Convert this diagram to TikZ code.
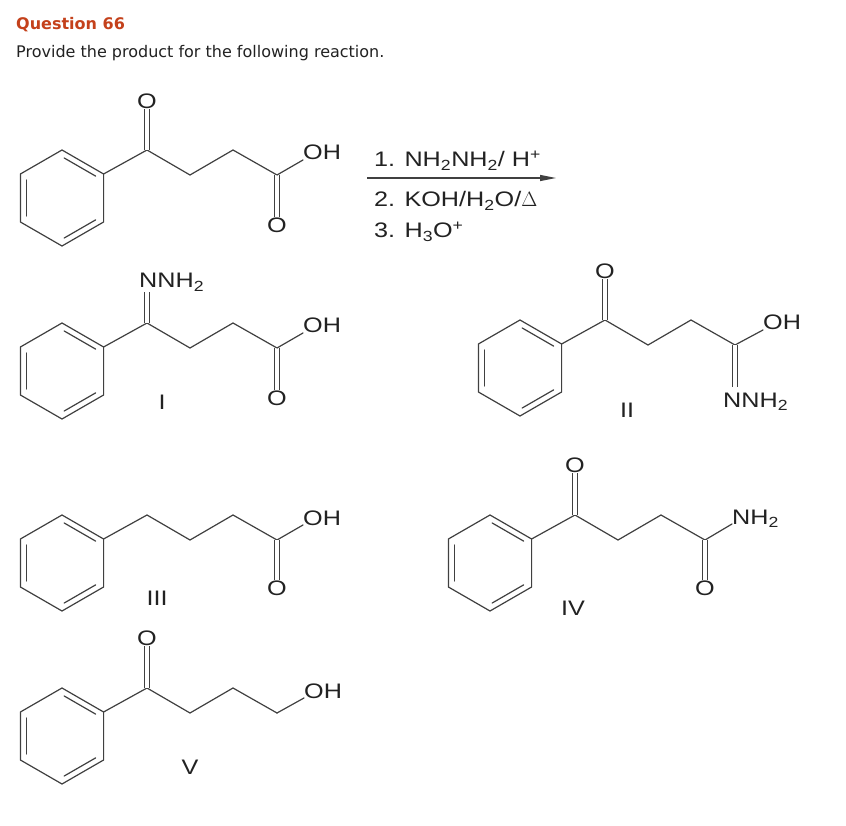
\documentclass[tikz,border=0pt]{standalone}
\usepackage{fontspec}
\setmainfont{DejaVu Sans}
\newfontfamily\chem[FakeStretch=1.2]{Liberation Sans}
\usetikzlibrary{arrows.meta,calc}
\definecolor{qorange}{HTML}{C4411B}
\definecolor{bondc}{HTML}{404040}
\definecolor{txtc}{HTML}{222222}
\tikzset{
 bnd/.style={draw=bondc,line width=1.2pt,line cap=round},
 inner/.style={bnd,shorten <=2.5pt,shorten >=2.5pt},
 dbl/.style={draw=bondc,line width=1.1pt,double=white,double distance=3.4pt},
 lbl/.style={font=\chem\fontsize{21}{21}\selectfont,text=txtc,inner sep=0.5pt},
 rgt/.style={font=\chem\fontsize{21}{21}\selectfont,text=txtc,inner sep=0pt,anchor=base west}
}
\newcommand\skel[3]{%
 \coordinate (#1t) at (#2+62,#3);
 \coordinate (#1ur) at (#2+103.6,#3+24);
 \coordinate (#1lr) at (#2+103.6,#3+72);
 \coordinate (#1bo) at (#2+62,#3+96);
 \coordinate (#1ll) at (#2+20.4,#3+72);
 \coordinate (#1ul) at (#2+20.4,#3+24);
 \coordinate (#1c) at (#2+62,#3+48);
 \draw[bnd,line join=round] (#1t)--(#1ur)--(#1lr)--(#1bo)--(#1ll)--(#1ul)--cycle;
 \draw[inner] ($(#1c)!0.86!(#1t)$) -- ($(#1c)!0.86!(#1ur)$);
 \draw[inner] ($(#1c)!0.86!(#1lr)$) -- ($(#1c)!0.86!(#1bo)$);
 \draw[inner] ($(#1c)!0.86!(#1ll)$) -- ($(#1c)!0.86!(#1ul)$);
 \coordinate (#1k1) at (#2+147,#3);
 \coordinate (#1k2) at (#2+190,#3+25);
 \coordinate (#1k3) at (#2+233,#3);
 \coordinate (#1k4) at (#2+277,#3+25);
 \draw[bnd,line join=round] (#1ur)--(#1k1)--(#1k2)--(#1k3)--(#1k4);
}
\begin{document}
\begin{tikzpicture}[x=1pt,y=-1pt]
\useasboundingbox[fill=white] (0,0) rectangle (846,826);
\node[anchor=base west,inner sep=0,text=qorange,font=\bfseries\fontsize{16}{16}\selectfont] (title) at (16,30) {Question 66};
\node[anchor=base west,inner sep=0,text=txtc,font=\fontsize{16}{16}\selectfont] (prompt) at (16,58) {Provide the product for the following reaction.};

% starting material
\skel{s}{0}{150}
\node[lbl] (sO) at (147,101) {O};
\draw[dbl] (sk1) -- (sO.south);
\node[lbl] (sO2) at (277,225) {O};
\draw[dbl] (sk4) -- (sO2.north);
\node[rgt] (sOH) at (303,160) {OH};
\draw[bnd] (sk4) -- (sOH.base west);

% reagents
\node[rgt] (r1) at (374,167) {1. NH\textsubscript{2}NH\textsubscript{2}/ H\textsuperscript{+}};
\node[rgt] (r2) at (374,207) {2. KOH/H\textsubscript{2}O/$\Delta$};
\node[rgt] (r3) at (374,238) {3. H\textsubscript{3}O\textsuperscript{+}};
\coordinate (aS) at (367,178);
\coordinate (aE) at (556,178);
\draw[draw=bondc,line width=1.2pt,-{Triangle[length=16pt,width=6pt]}] (aS) -- (aE);

% I
\skel{a}{0}{323}
\node[rgt] (aN) at (139,288) {NNH\textsubscript{2}};
\coordinate (aNb) at (147,292);
\draw[dbl] (ak1) -- (aNb);
\node[lbl] (aO2) at (277,398) {O};
\draw[dbl] (ak4) -- (aO2.north);
\node[rgt] (aOH) at (303,333) {OH};
\draw[bnd] (ak4) -- (aOH.base west);
\node[lbl] (lI) at (162,402) {I};

% II
\skel{b}{458}{320}
\node[lbl] (bO) at (605,271) {O};
\draw[dbl] (bk1) -- (bO.south);
\node[rgt] (bOH) at (763,330) {OH};
\draw[bnd] (bk4) -- (bOH.base west);
\node[rgt] (bN) at (723,407) {NNH\textsubscript{2}};
\coordinate (bNb) at (735,387);
\draw[dbl] (bk4) -- (bNb);
\node[lbl] (lII) at (627,410) {II};

% III
\skel{c}{0}{515}
\node[rgt] (cOH) at (303,525) {OH};
\draw[bnd] (ck4) -- (cOH.base west);
\node[lbl] (cO2) at (277,588) {O};
\draw[dbl] (ck4) -- (cO2.north);
\node[lbl] (lIII) at (157,598) {III};

% IV
\skel{d}{428}{515}
\node[lbl] (dO) at (575,465) {O};
\draw[dbl] (dk1) -- (dO.south);
\node[rgt] (dNH) at (732,524) {NH\textsubscript{2}};
\draw[bnd] (dk4) -- (dNH.base west);
\node[lbl] (dO2) at (705,588) {O};
\draw[dbl] (dk4) -- (dO2.north);
\node[lbl] (lIV) at (573,608) {IV};

% V
\skel{e}{0}{688}
\node[lbl] (eO) at (147,638) {O};
\draw[dbl] (ek1) -- (eO.south);
\node[rgt] (eOH) at (304,698) {OH};
\draw[bnd] (ek4) -- (eOH.base west);
\node[lbl] (lV) at (190,767) {V};
\end{tikzpicture}
\end{document}
